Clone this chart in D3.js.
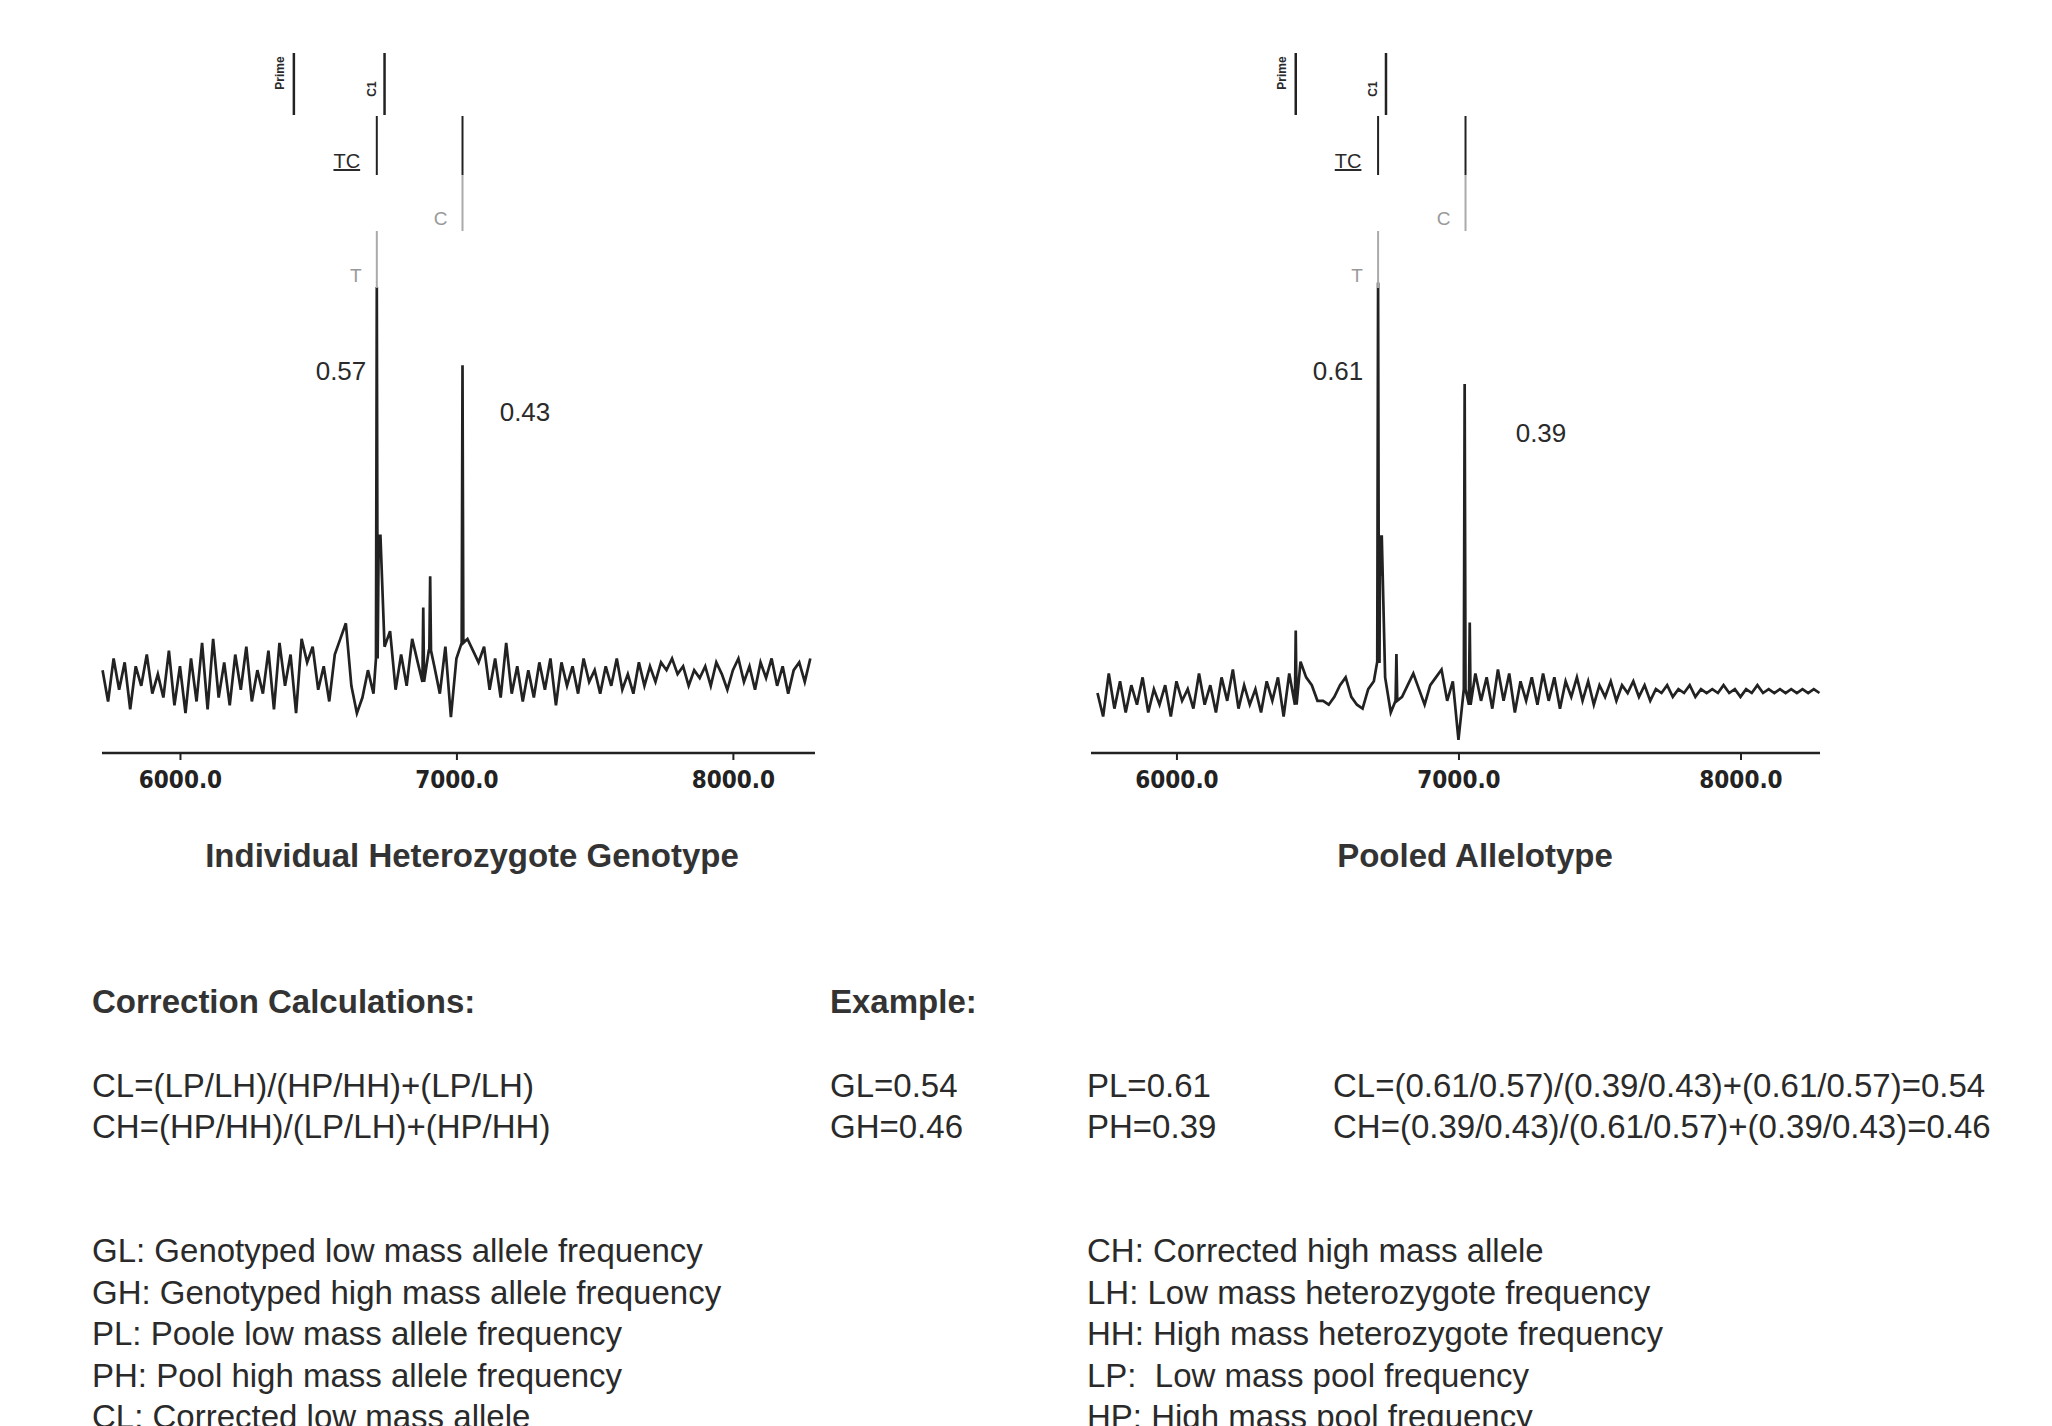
<!DOCTYPE html>
<html>
<head>
<meta charset="utf-8">
<script src="https://cdn.jsdelivr.net/npm/d3@7"></script>
<style>
  body { margin: 0; background: #fff; }
  text { font-family: "Liberation Sans", Arial, sans-serif; fill: #2a2a2a; }
</style>
</head>
<body>
<script>
// mass grid for the baseline noise: 5720..8300, step 20
const massStart = 5720
const massStep = 20

const noiseIndividual = [
  2, -6, 5, -3, 4, -8, 3, -2, 6, -4,
  1, -5, 7, -7, 3, -9, 5, -6, 9, -8,
  10, -5, 4, -7, 6, -3, 8, -6, 2, -4,
  7, -8, 9, -2, 6, -9, 10, 4, 8, -3,
  3, -6, 6, 10, 14, -2, -9, -5, 2, -4,
  5, 8, 12, -3, 6, -2, 10, 4, -1, 7,
  3, -4, 8, -10, 5, 9, 10, 7, 4, 8,
  -3, 5, -5, 9, -4, 3, -6, 2, -5, 4,
  -3, 5, -7, 4, -2, 3, -4, 5, -1, 2,
  -4, 3, -2, 5, -3, 1, -4, 4, -2, 3,
  -1, 4, 2, 5, 1, 3, -2, 2, 0, 3,
  -2, 4, 1, -3, 2, 5, -1, 3, -3, 4,
  0, 5, -2, 3, -4, 2, 4, -1, 5, 2
]
const peaksIndividual = [
  { m: 6712, h: 100 }, { m: 6722, h: 32 }, { m: 6880, h: 18 },
  { m: 6905, h: 26 }, { m: 7022, h: 80 }
]

const noisePooled = [
  0, -6, 5, -4, 3, -5, 2, -3, 4, -5,
  1, -3, 2, -6, 3, -2, 1, -4, 5, -3,
  2, -5, 4, -2, 6, -4, 2, -3, 1, -5,
  3, -2, 4, -6, 5, -3, 8, 4, 2, -2,
  -2, -3, -1, 2, 4, -1, -3, -4, 1, 3,
  8, 4, -5, -2, -1, 2, 5, 1, -3, 2,
  4, 6, -2, 3, -12, 1, -3, 5, -2, 4,
  -4, 6, -2, 5, -5, 3, -2, 4, -3, 5,
  -2, 4, -4, 3, -1, 4, -2, 3, -3, 2,
  -1, 3, -2, 2, 0, 3, -1, 2, -2, 1,
  0, 2, -1, 1, 0, 2, -1, 1, 0, 1,
  0, 2, 0, 1, -1, 1, 0, 2, 0, 1,
  0, 1, 0, 1, 0, 1, 0, 1, 0, 0
]
const peaksPooled = [
  { m: 6423, h: 16 }, { m: 6715, h: 105 }, { m: 6725, h: 30 },
  { m: 6780, h: 10 }, { m: 7022, h: 79 }, { m: 7040, h: 18 }
]

const tickValues = [6000, 7000, 8000]
const markerNames = ['Prime', 'C1', 'TC', 'T', 'C']
const markerMassIndividual = [6412, 6740, 6712, 6712, 7022]
const markerMassPooled = [6423, 6743, 6715, 6715, 7025]
const freqIndividual = ['0.57', '0.43']
const freqPooled = ['0.61', '0.39']

const panels = [
  { title: 'Individual Heterozygote Genotype', noise: noiseIndividual, peaks: peaksIndividual,
    markers: markerMassIndividual, freq: freqIndividual, x0: 102, x1: 815, dom: [5718, 8297],
    base: 678, freqPos: [[341, 380], [525, 421]], titleX: 472 },
  { title: 'Pooled Allelotype', noise: noisePooled, peaks: peaksPooled,
    markers: markerMassPooled, freq: freqPooled, x0: 1091, x1: 1820, dom: [5697, 8282],
    base: 693, freqPos: [[1338, 380], [1541, 442]], titleX: 1475 }
]

const svg = d3.select('body').append('svg')
  .attr('width', 2052).attr('height', 1426)

panels.forEach(p => {
  const x = d3.scaleLinear().domain(p.dom).range([p.x0, p.x1])
  const y = d3.scaleLinear().domain([0, 100]).range([p.base, p.base - 391])
  const g = svg.append('g')

  // build trace: noise + narrow peaks
  let pts = p.noise.map((v, i) => [massStart + i * massStep, v])
  p.peaks.forEach(pk => {
    const nb = pts.filter(d => Math.abs(d[0] - pk.m) <= 10)
    const b = nb.length ? d3.mean(nb, d => d[1]) : 0
    pts = pts.filter(d => Math.abs(d[0] - pk.m) > 4)
    pts.push([pk.m - 3, b], [pk.m, pk.h], [pk.m + 3, b])
  })
  pts.sort((a, b) => a[0] - b[0])
  pts = pts.filter(d => d[0] >= p.dom[0] && d[0] <= p.dom[1])

  g.append('path')
    .attr('d', d3.line().x(d => x(d[0])).y(d => y(d[1]))(pts))
    .attr('fill', 'none').attr('stroke', '#222').attr('stroke-width', 2.7)

  // axis
  const ax = g.append('g').attr('transform', `translate(0,753)`)
    .call(d3.axisBottom(x).tickValues(tickValues).tickFormat(d3.format('.1f')).tickSize(7))
  ax.select('.domain').attr('stroke', '#222').attr('stroke-width', 2.5)
    .attr('d', `M${p.x0},0H${p.x1}`)
  ax.selectAll('.tick line').attr('stroke', '#222').attr('stroke-width', 2)
  ax.selectAll('.tick text').attr('dy', 25)
    .style('font-family', '"DejaVu Sans Condensed", "DejaVu Sans", sans-serif')
    .style('font-weight', 'bold').style('font-size', '24px').style('fill', '#222')

  // markers
  const m = p.markers
  const line = (mx, y1, y2, col, w) => g.append('line')
    .attr('x1', x(mx)).attr('x2', x(mx)).attr('y1', y1).attr('y2', y2)
    .attr('stroke', col).attr('stroke-width', w)
  line(m[0], 53, 115, '#222', 2.5)
  line(m[1], 53, 115, '#222', 2.5)
  line(m[2], 116, 175, '#222', 2)
  line(m[3], 231, 288, '#aaa', 2)
  line(m[4], 116, 175, '#222', 2)
  line(m[4], 175, 231, '#aaa', 2)

  const rot = (mx, dx, cy, txt) => g.append('text')
    .attr('transform', `translate(${x(mx) + dx},${cy}) rotate(-90)`)
    .attr('text-anchor', 'middle').attr('dy', '0.35em')
    .style('font-size', '12px').style('font-weight', 'bold').text(txt)
  rot(m[0], -14, 73, markerNames[0])
  rot(m[1], -13, 89, markerNames[1])

  g.append('text').attr('x', x(m[2]) - 30).attr('y', 168).attr('text-anchor', 'middle')
    .style('font-size', '20px').style('text-decoration', 'underline').text(markerNames[2])
  g.append('text').attr('x', x(m[3]) - 21).attr('y', 282).attr('text-anchor', 'middle')
    .style('font-size', '19px').style('fill', '#999').text(markerNames[3])
  g.append('text').attr('x', x(m[4]) - 22).attr('y', 225).attr('text-anchor', 'middle')
    .style('font-size', '19px').style('fill', '#999').text(markerNames[4])

  p.freq.forEach((f, i) => {
    g.append('text').attr('x', p.freqPos[i][0]).attr('y', p.freqPos[i][1])
      .attr('text-anchor', 'middle').style('font-size', '26px').text(f)
  })

  g.append('text').attr('x', p.titleX).attr('y', 867).attr('text-anchor', 'middle')
    .style('font-size', '33px').style('font-weight', 'bold').style('fill', '#333').text(p.title)
})

// text block
const headings = [['Correction Calculations:', 92], ['Example:', 830]]
const formulaRows = [
  ['CL=(LP/LH)/(HP/HH)+(LP/LH)', 'GL=0.54', 'PL=0.61', 'CL=(0.61/0.57)/(0.39/0.43)+(0.61/0.57)=0.54'],
  ['CH=(HP/HH)/(LP/LH)+(HP/HH)', 'GH=0.46', 'PH=0.39', 'CH=(0.39/0.43)/(0.61/0.57)+(0.39/0.43)=0.46']
]
const legendLeft = [
  'GL: Genotyped low mass allele frequency',
  'GH: Genotyped high mass allele frequency',
  'PL: Poole low mass allele frequency',
  'PH: Pool high mass allele frequency',
  'CL: Corrected low mass allele'
]
const legendRight = [
  'CH: Corrected high mass allele',
  'LH: Low mass heterozygote frequency',
  'HH: High mass heterozygote frequency',
  'LP:  Low mass pool frequency',
  'HP: High mass pool frequency'
]

headings.forEach(h => svg.append('text').attr('x', h[1]).attr('y', 1013)
  .style('font-size', '33px').style('font-weight', 'bold').style('fill', '#333').text(h[0]))

const colX = [92, 830, 1087, 1333]
formulaRows.forEach((r, i) => r.forEach((t, j) => svg.append('text')
  .attr('x', colX[j]).attr('y', 1097 + i * 41)
  .style('font-size', '33px').attr('xml:space', 'preserve').text(t)))

legendLeft.forEach((t, i) => svg.append('text').attr('x', 92).attr('y', 1262 + i * 41.5)
  .style('font-size', '33px').attr('xml:space', 'preserve').text(t))
legendRight.forEach((t, i) => svg.append('text').attr('x', 1087).attr('y', 1262 + i * 41.5)
  .style('font-size', '33px').attr('xml:space', 'preserve').text(t))
</script>
</body>
</html>
